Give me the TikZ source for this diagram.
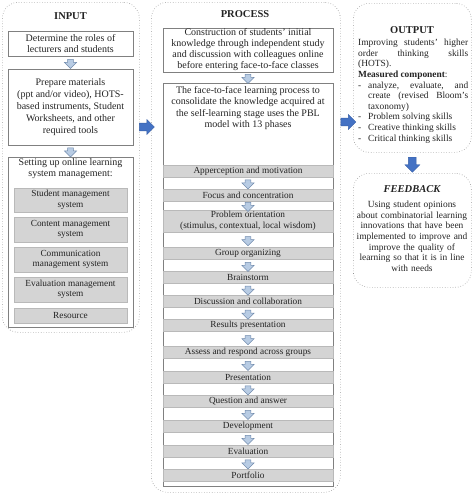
\documentclass[tikz,border=0pt]{standalone}
\usepackage{fontspec}
\setmainfont{Liberation Serif}
\usetikzlibrary{shapes.arrows}
\definecolor{arrowblue}{RGB}{68,114,196}
\definecolor{paleblue}{RGB}{184,204,228}
\definecolor{paleedge}{RGB}{112,138,172}
\definecolor{stripgray}{RGB}{212,212,212}
\definecolor{framegray}{RGB}{128,128,128}
\definecolor{inkgray}{RGB}{35,35,35}
\newcommand{\hotsitem}[1]{\par\hangindent=10pt\hangafter=1\noindent\makebox[10pt][l]{-}#1}
\tikzset{
  panel/.style={draw=gray!85, dotted, line width=0.6pt, rounded corners=16pt, anchor=north west, inner sep=0pt},
  stepbox/.style={draw=framegray, line width=0.8pt, align=center, inner sep=0pt, text=inkgray, font=\fontsize{10}{11.5}\selectfont},
  strip/.style={fill=stripgray, draw=gray!55, line width=0.4pt, inner sep=0pt, align=center, text=inkgray, font=\fontsize{9.3}{10.5}\selectfont},
  smallarrow/.style={single arrow, draw=paleedge, fill=paleblue, line width=0.5pt, shape border rotate=270, minimum height=9pt, minimum width=12pt, single arrow head extend=3pt, inner sep=2.5pt},
  bigarrow/.style={single arrow, fill=arrowblue, draw=arrowblue!85!black, line width=0.4pt, minimum height=15pt, minimum width=15pt, single arrow head extend=3.5pt, inner sep=3.5pt},
  paneltitle/.style={text=inkgray, font=\fontsize{10.5}{12}\selectfont\bfseries},
  paneltext/.style={text=inkgray, inner sep=0pt, font=\fontsize{9.4}{10.6}\selectfont}
}
\begin{document}
\begin{tikzpicture}[x=1pt,y=-1pt]
\useasboundingbox (0,0) rectangle (474,499);
% panels
\node[panel, minimum width=137pt, minimum height=330pt] (input) at (2,2) {};
\node[panel, minimum width=189pt, minimum height=490pt] (process) at (151,2) {};
\node[panel, minimum width=118pt, minimum height=149pt] (output) at (353,3) {};
\node[panel, minimum width=118pt, minimum height=114pt] (feedback) at (353,173) {};
\node[paneltitle] (inputtitle) at (70.5,16) {INPUT};
\node[paneltitle] (processtitle) at (245,14) {PROCESS};
\node[paneltitle] (outputtitle) at (412,30) {OUTPUT};
\node[paneltitle, font=\fontsize{10.5}{12}\selectfont\bfseries\itshape] (feedbacktitle) at (412,189) {FEEDBACK};
% input column
\node[stepbox, minimum width=125pt, minimum height=25pt] (roles) at (70.5,43.5) {Determine the roles of\\lecturers and students};
\node[stepbox, minimum width=125pt, minimum height=76pt, font=\fontsize{10}{12}\selectfont] (materials) at (70.5,107) {Prepare materials\\(ppt and/or video), HOTS-\\based instruments, Student\\Worksheets, and other\\required tools};
\node[stepbox, minimum width=125pt, minimum height=170pt] (online) at (70.5,242) {};
\node[paneltext, anchor=north, align=center, font=\fontsize{10}{11.5}\selectfont] (onlinetext) at (70.5,158) {Setting up online learning\\system management:};
\node[strip, minimum width=113pt, minimum height=24pt] (student) at (70.5,200) {Student management\\system};
\node[strip, minimum width=113pt, minimum height=25pt] (content) at (70.5,229.5) {Content management\\system};
\node[strip, minimum width=113pt, minimum height=25pt] (communication) at (70.5,259.5) {Communication\\management system};
\node[strip, minimum width=113pt, minimum height=25pt] (evaluationsys) at (70.5,289.5) {Evaluation management\\system};
\node[strip, minimum width=113pt, minimum height=15pt] (resource) at (70.5,315.5) {Resource};
\path (roles.south) -- node[smallarrow] {} (materials.north);
\path (materials.south) -- node[smallarrow] {} (online.north);
% process column
\node[stepbox, minimum width=170pt, minimum height=44pt, font=\fontsize{10}{11}\selectfont] (construction) at (248,50) {Construction of students' initial\\knowledge through independent study\\and discussion with colleagues online\\before entering face-to-face classes};
\node[stepbox, minimum width=170pt, minimum height=403pt] (facetoface) at (248,284.5) {};
\node[paneltext, anchor=north, align=center, font=\fontsize{10}{11.5}\selectfont] (facetext) at (248,86) {The face-to-face learning process to\\consolidate the knowledge acquired at\\the self-learning stage uses the PBL\\model with 13 phases};
\path (construction.south) -- node[smallarrow] {} (facetoface.north);
\node[strip, minimum width=170pt, minimum height=12pt] (p1) at (248,171) {Apperception and motivation};
\node[strip, minimum width=170pt, minimum height=12pt] (p2) at (248,195) {Focus and concentration};
\node[strip, minimum width=170pt, minimum height=22pt] (p3) at (248,221) {Problem orientation\\(stimulus, contextual, local wisdom)};
\node[strip, minimum width=170pt, minimum height=12pt] (p4) at (248,253.5) {Group organizing};
\node[strip, minimum width=170pt, minimum height=12pt] (p5) at (248,277.5) {Brainstorm};
\node[strip, minimum width=170pt, minimum height=12pt] (p6) at (248,301) {Discussion and collaboration};
\node[strip, minimum width=170pt, minimum height=12pt] (p7) at (248,325.5) {Results presentation};
\node[strip, minimum width=170pt, minimum height=12pt] (p8) at (248,352) {Assess and respond across groups};
\node[strip, minimum width=170pt, minimum height=12pt] (p9) at (248,377) {Presentation};
\node[strip, minimum width=170pt, minimum height=12pt] (p10) at (248,401) {Question and answer};
\node[strip, minimum width=170pt, minimum height=12pt] (p11) at (248,426) {Development};
\node[strip, minimum width=170pt, minimum height=12pt] (p12) at (248,451) {Evaluation};
\node[strip, minimum width=170pt, minimum height=12pt] (p13) at (248,475) {Portfolio};
\path (p1.south) -- node[smallarrow] {} (p2.north);
\path (p2.south) -- node[smallarrow] {} (p3.north);
\path (p3.south) -- node[smallarrow] {} (p4.north);
\path (p4.south) -- node[smallarrow] {} (p5.north);
\path (p5.south) -- node[smallarrow] {} (p6.north);
\path (p6.south) -- node[smallarrow] {} (p7.north);
\path (p7.south) -- node[smallarrow] {} (p8.north);
\path (p8.south) -- node[smallarrow] {} (p9.north);
\path (p9.south) -- node[smallarrow] {} (p10.north);
\path (p10.south) -- node[smallarrow] {} (p11.north);
\path (p11.south) -- node[smallarrow] {} (p12.north);
\path (p12.south) -- node[smallarrow] {} (p13.north);
% output and feedback
\node[paneltext, anchor=north west, text width=110pt, align=justify] (outputtext) at (358,39) {\hyphenpenalty=10000 Improving students' higher\linebreak order thinking skills\linebreak (HOTS).\par\noindent\textbf{Measured component}:
\hotsitem{analyze, evaluate, and\linebreak create (revised Bloom's\linebreak taxonomy)}
\hotsitem{Problem solving skills}
\hotsitem{Creative thinking skills}
\hotsitem{Critical thinking skills}};
\node[paneltext, anchor=north, text width=116pt, align=center] (feedbacktext) at (412,201) {Using student opinions\\about combinatorial learning\\innovations that have been\\implemented to improve and\\improve the quality of\\learning so that it is in line\\with needs};
% links between panels
\coordinate (inproc) at (145,127);
\coordinate (procout) at (346.5,122);
\node[bigarrow] (arrowin) at (inproc) {};
\node[bigarrow] (arrowout) at (procout) {};
\path (output.south) -- node[bigarrow, shape border rotate=270] (arrowfeed) {} (feedback.north);
\end{tikzpicture}
\end{document}
